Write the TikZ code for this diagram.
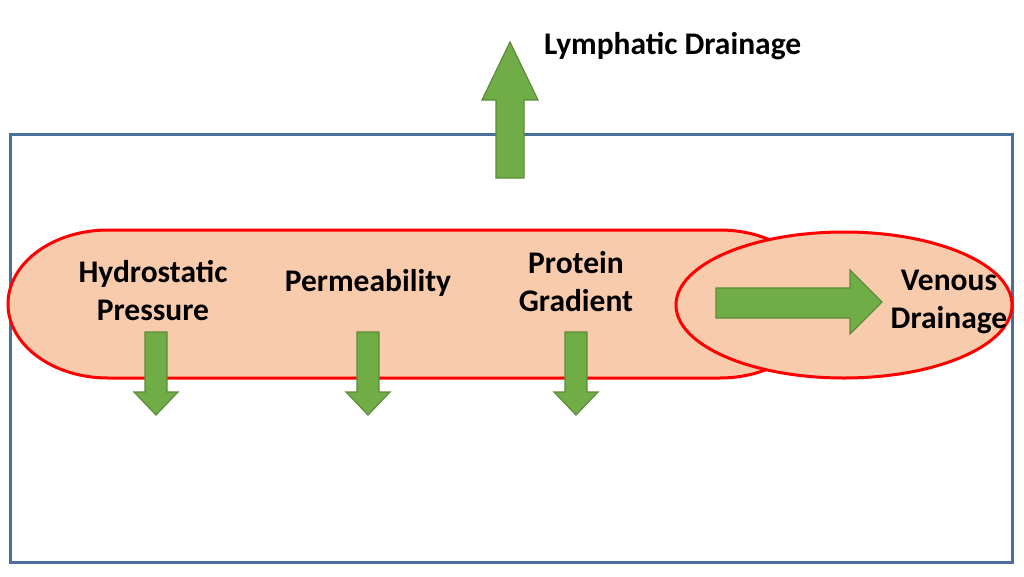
\documentclass[tikz,border=0pt]{standalone}
\usepackage{fontspec}
\setmainfont{Carlito}
\begin{document}
\begin{tikzpicture}[x=1pt,y=-1pt,
  lbl/.style={font=\fontsize{31.5}{38}\selectfont\bfseries,align=center,text=black,inner sep=0pt},
  garrow/.style={fill=arrowgreen, draw=arrowedge, line width=1.2pt}]
\definecolor{arrowgreen}{HTML}{70AD47}
\definecolor{arrowedge}{HTML}{5B8C3A}
\definecolor{boxblue}{HTML}{4A6F9C}
\definecolor{capfill}{HTML}{F8CBAD}
\useasboundingbox (0,0) rectangle (1024,576);
\draw[boxblue,line width=3pt] (10,134) rectangle (1012,562);
% capsule
\draw[red,fill=capfill,line width=3pt] (8,304) arc[start angle=180,end angle=270,x radius=100,y radius=74]
  -- (720,230) arc[start angle=270,end angle=360,x radius=100,y radius=74]
  arc[start angle=0,end angle=90,x radius=100,y radius=74] -- (108,378)
  arc[start angle=90,end angle=180,x radius=100,y radius=74] -- cycle;
\draw[red,fill=capfill,line width=3pt] (844,305) ellipse[x radius=168,y radius=73];
% arrows
\draw[garrow] (496,178) -- (496,100) -- (482,100) -- (510,42) -- (538,100) -- (524,100) -- (524,178) -- cycle;
\foreach \c in {156,368,576}{
  \draw[garrow] (\c-11,332) -- (\c-11,392) -- (\c-22,392) -- (\c,415) -- (\c+22,392) -- (\c+11,392) -- (\c+11,332) -- cycle;}
\draw[garrow] (716,288) -- (850,288) -- (850,270) -- (882,302) -- (850,334) -- (850,318) -- (716,318) -- cycle;
% labels
\node[lbl,anchor=west] (lym) at (544,46) {Lymphatic Drainage};
\node[lbl] (hp) at (153,291) {Hydrostatic\\Pressure};
\node[lbl] (pm) at (368,283) {Permeability};
\node[lbl] (pg) at (576,282) {Protein\\Gradient};
\node[lbl] (vd) at (949,302) {Venous\\Drainage};
\end{tikzpicture}
\end{document}
